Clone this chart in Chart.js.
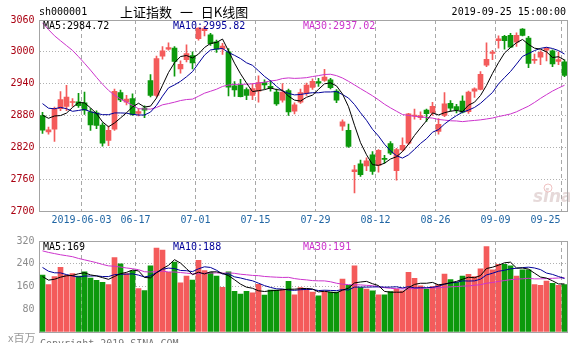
<!DOCTYPE html>
<html>
<head>
<meta charset="utf-8">
<title>上证指数 日K线图</title>
<script src="https://cdn.jsdelivr.net/npm/chart.js"></script>
<style>
  body { margin: 0; width: 570px; height: 343px; background: #fff; position: relative; overflow: hidden; }
  canvas { position: absolute; left: 0; }
  #kline { top: 0; }
  #volume { top: 230px; }
  .t { position: absolute; font: 10px "DejaVu Sans Mono", monospace; line-height: 12px; white-space: nowrap; color: #000; }
</style>
</head>
<body>
<canvas id="kline" width="570" height="230"></canvas>
<canvas id="volume" width="570" height="113"></canvas>
<div class="t" style="left:39px;top:6px">sh000001</div>
<div class="t" style="left:120px;top:3px;font:13px 'Noto Sans CJK SC';line-height:17px;word-spacing:5px">上证指数 一 日K线图</div>
<div class="t" style="right:4px;top:6px">2019-09-25 15:00:00</div>
<div class="t" style="left:8px;top:330px;color:#9a9a9a;font:11px 'Noto Sans CJK SC';line-height:14px">x百万</div>

<script>
    // trading days shown, 2019
    var dates = [
        '05-23','05-24','05-27','05-28','05-29','05-30','05-31',
        '06-03','06-04','06-05','06-06','06-10','06-11','06-12','06-13','06-14','06-17','06-18','06-19','06-20','06-21','06-24','06-25','06-26','06-27','06-28',
        '07-01','07-02','07-03','07-04','07-05','07-08','07-09','07-10','07-11','07-12','07-15','07-16','07-17','07-18','07-19','07-22','07-23','07-24','07-25','07-26','07-29','07-30','07-31',
        '08-01','08-02','08-05','08-06','08-07','08-08','08-09','08-12','08-13','08-14','08-15','08-16','08-19','08-20','08-21','08-22','08-23','08-26','08-27','08-28','08-29','08-30',
        '09-02','09-03','09-04','09-05','09-06','09-09','09-10','09-11','09-12','09-16','09-17','09-18','09-19','09-20','09-23','09-24','09-25'
    ];

    var openPx = [
        2880,2849,2854,2893,2897,2904.5,2906,
        2904,2887,2885,2862,2833,2854,2923,2905,2912,2884,2894,2946,2918,2992,3005,3007,2968,2985,2993,
        3025,3040,3032,3019,3006,3000,2936,2938,2929,2918,2926,2942,2935,2924,2909,2927,2888,2905,2922,2933,2944,2946,2947,
        2926,2860,2852,2774,2789,2785,2806,2786,2798,2827,2776,2815,2828,2879,2876,2890,2885,2850,2880,2903,2897,2907,
        2887,2926,2929,2975,2997,3021,3029,3031,3018,3043,3026,2984,2990,3003,3002,2982,2981
    ];
    var highPx = [
        2886,2858,2896,2925,2937,2912,2922,
        2924,2893,2889,2866,2860,2930,2928,2918,2921,2893,2898,2957,2992,3010,3017,3010,2983,3013,3000,
        3045.4,3048,3035,3022,3016,3006,2944,2948,2932,2940,2955,2947,2946,2930,2940,2930,2904,2930,2941,2949,2950,2967,2950,
        2929,2872,2864,2786,2796,2800,2812,2816,2805,2831,2818,2838,2884,2892,2887,2892,2905,2874,2923,2908,2901,2917,
        2926,2932,2963,3017,3003,3030,3031,3035,3036,3044,3029,2996,3002,3008,3004,3000,2985
    ];
    var lowPx = [
        2846,2845,2831,2889,2889,2897,2895,
        2882,2852,2855,2822,2823,2852,2906,2900,2880,2879,2876,2915,2915,2986,3003,2954,2960,2981,2968,
        3022,3030,3012,2999,2995,2917,2916,2915,2910,2910,2905,2930,2926,2899,2905,2880,2883,2903,2918,2929,2935,2944,2930,
        2904,2852,2820,2734,2765,2776,2769,2773,2790,2806,2758,2813,2825,2873,2872,2869,2880,2845,2878,2888,2885,2885,
        2884,2914,2928,2972,2985,3007,3005,3008,3010,3030,2970,2978,2976,2983,2972,2976,2953
    ];
    var closePx = [
        2852.52,2852.99,2892.38,2909.91,2914.70,2905.81,2898.70,
        2890.08,2862.28,2861.42,2827.80,2852.13,2925.72,2909.38,2910.74,2881.97,2887.62,2890.16,2917.80,2987.12,3001.98,3008.15,2982.07,2976.28,2996.79,2978.88,
        3044.90,3043.94,3015.26,3005.25,3011.06,2933.36,2928.23,2915.30,2917.76,2930.55,2942.19,2937.62,2931.69,2901.95,2924.20,2886.97,2899.94,2923.28,2937.36,2944.54,2941.01,2952.34,2932.51,
        2908.77,2867.84,2821.50,2777.56,2768.68,2794.55,2774.75,2814.52,2797.26,2808.91,2815.80,2823.82,2883.10,2880.33,2880.00,2883.44,2897.43,2863.57,2902.19,2893.76,2890.92,2886.24,
        2924.11,2930.15,2957.41,2985.86,2999.60,3024.74,3021.20,3008.81,3031.24,3030.75,2978.12,2985.66,2999.28,3006.45,2977.08,2985.34,2955.43
    ];
    // volume, million lots
    var volumes = [
        200,167,195,227,200,205,197,212,190,182,
        175,167,262,240,205,215,153,146,233,295,
        288,210,246,173,197,183,252,216,210,197,
        157,212,143,133,143,138,168,130,147,147,
        150,178,131,156,151,140,127,142,140,140,
        186,164,233,156,151,145,131,131,142,151,
        145,210,189,162,151,160,167,204,184,175,
        197,203,195,222,300,219,238,238,233,197,
        219,219,167,164,179,171,164,167
    ];
    // 29 sessions before 05-23, only needed to start the moving averages
    var closeBefore = [
        3239.66,3241.93,3189.96,3188.63,3177.79,3253.60,3263.12,3250.20,3270.80,3215.04,3198.59,3201.61,3123.83,3086.40,3062.50,3078.34,
        2906.46,2926.39,2893.76,2850.95,2939.21,2903.71,2883.61,2938.68,2955.71,2882.30,2870.60,2905.97,2891.70
    ];
    var volumeBefore = [
        330,320,350,300,310,380,360,340,330,360,320,300,330,300,290,260,
        360,260,250,240,300,250,230,260,255,230,180,190,175
    ];
    var tickLabels = ['2019-06-03','06-17','07-01','07-15','07-29','08-12','08-26','09-09','09-25'];

    var RED = '#f45b5b';
    var GREEN = '#0c990c';
    var colors = closePx.map(function (c, i) { return c >= openPx[i] ? RED : GREEN; });
    var markIdx = tickLabels.map(function (l) { return dates.indexOf(l.slice(-5)); });

    function movingAvg(before, values, n) {
        var all = before.concat(values);
        return values.map(function (v, i) {
            var end = before.length + i + 1;
            var sum = 0;
            for (var k = end - n; k < end; k++) sum += all[k];
            return sum / n;
        });
    }
    var ma5 = movingAvg(closeBefore, closePx, 5);
    var ma10 = movingAvg(closeBefore, closePx, 10);
    var ma30 = movingAvg(closeBefore, closePx, 30);
    var vma5 = movingAvg(volumeBefore, volumes, 5);
    var vma10 = movingAvg(volumeBefore, volumes, 10);
    var vma30 = movingAvg(volumeBefore, volumes, 30);
    var last = dates.length - 1;

    function lineSet(d, col) {
        return { type: 'line', data: d, borderColor: col, borderWidth: 1, pointRadius: 0, tension: 0, fill: false };
    }

    var frame = {
        id: 'frame',
        afterDraw: function (chart) {
            var a = chart.chartArea, c = chart.ctx;
            c.save();
            c.strokeStyle = '#a4a4a4';
            c.lineWidth = 1;
            c.strokeRect(Math.floor(a.left) + 0.5, Math.floor(a.top) + 0.5, Math.round(a.right - a.left), Math.round(a.bottom - a.top));
            c.restore();
        }
    };

    function maText(items) {
        return {
            id: 'maText',
            afterDraw: function (chart) {
                var c = chart.ctx;
                c.save();
                c.font = '10px "DejaVu Sans Mono"';
                c.textBaseline = 'middle';
                items.forEach(function (it) {
                    c.fillStyle = it.color;
                    c.fillText(it.text, it.x, chart.chartArea.top + 6);
                });
                c.restore();
            }
        };
    }

    var dateLabels = {
        id: 'dateLabels',
        afterDraw: function (chart) {
            var xs = chart.scales.x, c = chart.ctx;
            var step = xs.getPixelForValue(1) - xs.getPixelForValue(0);
            c.save();
            c.font = '10px "DejaVu Sans Mono"';
            c.fillStyle = '#1f65a3';
            c.textBaseline = 'middle';
            tickLabels.forEach(function (lab, k) {
                var x = xs.getPixelForValue(markIdx[k]) - step / 2;
                var w = c.measureText(lab).width;
                c.textAlign = 'center';
                if (x + w / 2 > chart.width - 8) { c.textAlign = 'right'; x = x - 1; }
                c.fillText(lab, x, chart.chartArea.bottom + 9);
            });
            c.restore();
        }
    };

    var watermark = {
        id: 'watermark',
        beforeDatasetsDraw: function (chart) {
            var c = chart.ctx;
            c.save();
            c.fillStyle = 'rgba(200,170,170,0.45)';
            c.strokeStyle = 'rgba(220,120,120,0.45)';
            c.font = 'italic bold 17px "DejaVu Sans"';
            c.fillText('sina', 533, 202);
            c.beginPath();
            c.arc(548, 188, 4, 0, Math.PI * 2);
            c.stroke();
            c.restore();
        }
    };

    var copyright = {
        id: 'copyright',
        beforeDatasetsDraw: function (chart) {
            var c = chart.ctx;
            c.save();
            c.fillStyle = '#777';
            c.font = '10px "DejaVu Sans Mono"';
            c.textBaseline = 'top';
            c.fillText('Copyright 2019 SINA.COM', 40, 109);
            c.restore();
        }
    };

    function xAxis(h) {
        return {
            offset: true,
            ticks: { display: false, autoSkip: false },
            grid: {
                offset: true, drawTicks: false,
                color: function (ctx) { return markIdx.indexOf(ctx.index) >= 0 ? '#a8a8a8' : 'rgba(0,0,0,0)'; }
            },
            border: { display: false, dash: [4, 3] },
            afterFit: function (s) { s.height = h; s.paddingLeft = 0; s.paddingRight = 0; }
        };
    }

    new Chart(document.getElementById('kline'), {
        type: 'bar',
        data: {
            labels: dates,
            datasets: [
                lineSet(ma5, '#000000'),
                lineSet(ma10, '#000099'),
                lineSet(ma30, '#cc33cc'),
                { data: openPx.map(function (o, i) { return [o, closePx[i]]; }), backgroundColor: colors, barThickness: 5, minBarLength: 1, grouped: false, borderWidth: 0 },
                { data: lowPx.map(function (l, i) { return [l, highPx[i]]; }), backgroundColor: colors, barThickness: 1, grouped: false, borderWidth: 0 }
            ]
        },
        options: {
            responsive: false, animation: false, devicePixelRatio: 1, events: [],
            layout: { padding: { left: 0, right: 2.5, top: 20, bottom: 0 } },
            plugins: { legend: { display: false }, tooltip: { enabled: false } },
            scales: {
                x: xAxis(19),
                y: {
                    min: 2700, max: 3060,
                    afterFit: function (s) { s.width = 39.5; },
                    ticks: {
                        stepSize: 60, color: '#aa0011', font: { family: 'DejaVu Sans Mono', size: 10 }, padding: 5,
                        callback: function (v) { return String(v); }
                    },
                    grid: { drawTicks: false, color: '#b0b0b0' },
                    border: { display: false, dash: [1, 2] }
                }
            }
        },
        plugins: [watermark, frame, dateLabels, maText([
            { text: 'MA5:' + ma5[last].toFixed(2), x: 43, color: '#000000' },
            { text: 'MA10:' + ma10[last].toFixed(2), x: 173, color: '#000099' },
            { text: 'MA30:' + ma30[last].toFixed(2), x: 303, color: '#cc33cc' }
        ])]
    });

    new Chart(document.getElementById('volume'), {
        type: 'bar',
        data: {
            labels: dates,
            datasets: [
                lineSet(vma5, '#000000'),
                lineSet(vma10, '#000099'),
                lineSet(vma30, '#cc33cc'),
                { data: volumes, backgroundColor: colors, barThickness: 5, borderWidth: 0 }
            ]
        },
        options: {
            responsive: false, animation: false, devicePixelRatio: 1, events: [],
            layout: { padding: { left: 0, right: 2.5, top: 10, bottom: 0 } },
            plugins: { legend: { display: false }, tooltip: { enabled: false } },
            scales: {
                x: xAxis(5),
                y: {
                    min: 0, max: 320,
                    afterFit: function (s) { s.width = 39.5; },
                    ticks: {
                        stepSize: 80, color: '#8c8c8c', font: { family: 'DejaVu Sans Mono', size: 10 }, padding: 5,
                        callback: function (v) { return v === 0 ? '' : String(v); }
                    },
                    grid: { drawTicks: false, color: '#b0b0b0' },
                    border: { display: false, dash: [1, 2] }
                }
            }
        },
        plugins: [copyright, frame, maText([
            { text: 'MA5:' + Math.round(vma5[last]), x: 43, color: '#000000' },
            { text: 'MA10:' + Math.round(vma10[last]), x: 173, color: '#000099' },
            { text: 'MA30:' + Math.round(vma30[last]), x: 303, color: '#cc33cc' }
        ])]
    });
</script>
</body>
</html>
